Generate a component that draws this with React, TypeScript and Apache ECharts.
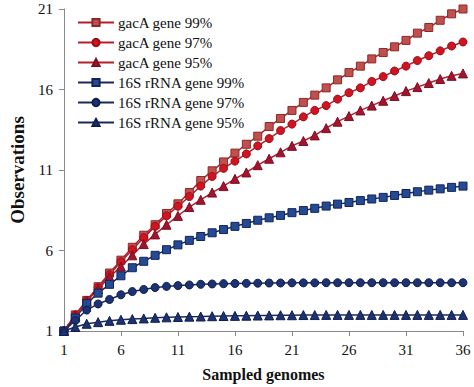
import React, { useEffect, useRef } from "react";
import * as echarts from "echarts";

const genomes: number[] = Array.from({ length: 36 }, (_, i) => i + 1);

const gacA99 = [1, 2.0, 2.9, 3.75, 4.6, 5.4, 6.2, 6.95, 7.6, 8.3, 8.9, 9.6, 10.35, 10.95, 11.5, 12.05, 12.6, 13.1, 13.7, 14.2, 14.7, 15.2, 15.65, 16.1, 16.6, 17.05, 17.45, 17.9, 18.3, 18.65, 19.05, 19.5, 19.85, 20.3, 20.7, 21.0];
const gacA97 = [1, 2.0, 2.9, 3.7, 4.5, 5.3, 6.05, 6.8, 7.5, 8.15, 8.75, 9.35, 10.0, 10.6, 11.1, 11.55, 12.0, 12.5, 12.95, 13.45, 13.85, 14.3, 14.7, 15.0, 15.4, 15.8, 16.1, 16.5, 16.8, 17.15, 17.45, 17.8, 18.1, 18.4, 18.7, 18.95];
const gacA95 = [1, 1.95, 2.85, 3.6, 4.35, 5.0, 5.7, 6.4, 7.0, 7.6, 8.15, 8.7, 9.15, 9.6, 10.0, 10.45, 10.85, 11.3, 11.7, 12.1, 12.5, 12.8, 13.15, 13.6, 14.0, 14.35, 14.7, 15.0, 15.3, 15.6, 15.9, 16.15, 16.4, 16.65, 16.85, 17.0];
const s16_99 = [1, 1.8, 2.7, 3.35, 3.9, 4.43, 4.93, 5.33, 5.7, 6.05, 6.35, 6.63, 6.87, 7.1, 7.3, 7.5, 7.68, 7.88, 8.03, 8.18, 8.35, 8.48, 8.62, 8.76, 8.88, 8.98, 9.1, 9.2, 9.3, 9.42, 9.54, 9.65, 9.75, 9.83, 9.92, 10.0];
const s16_97 = [1, 1.65, 2.3, 2.68, 2.96, 3.25, 3.45, 3.58, 3.7, 3.77, 3.82, 3.86, 3.9, 3.92, 3.94, 3.95, 3.96, 3.97, 3.98, 3.98, 3.99, 3.99, 3.99, 4, 4, 4, 4, 4, 4, 4, 4, 4, 4, 4, 4, 4];
const s16_95 = [1, 1.25, 1.45, 1.55, 1.63, 1.7, 1.74, 1.78, 1.82, 1.85, 1.87, 1.89, 1.9, 1.92, 1.93, 1.94, 1.95, 1.96, 1.97, 1.98, 1.98, 1.99, 1.99, 2, 2, 2, 2, 2, 2, 2, 2, 2, 2, 2, 2, 2];

const seriesNames = ["gacA gene 99%", "gacA gene 97%", "gacA gene 95%", "16S rRNA gene 99%", "16S rRNA gene 97%", "16S rRNA gene 95%"];

const SERIF = "'Liberation Serif', 'Times New Roman', serif";

export default function App() {
  const ref = useRef<HTMLDivElement>(null);
  useEffect(() => {
    if (!ref.current) return;
    const chart = echarts.init(ref.current, null, { renderer: "svg" });
    const red = "#B3202B";
    const navy = "#1B2A5C";
    const mk = (
      name: string,
      values: number[],
      symbol: string,
      size: number,
      line: string,
      fill: string,
      border: string
    ) => ({
      name,
      type: "line",
      data: genomes.map((g, i) => [g, values[i]]),
      symbol,
      symbolSize: size,
      showAllSymbol: true,
      lineStyle: { color: line, width: 1.5 },
      itemStyle: { color: fill, borderColor: border, borderWidth: 1 },
      z: 2,
    });
    chart.setOption({
      animation: false,
      backgroundColor: "#ffffff",
      grid: { left: 51, right: 11, top: 9, bottom: 53 },
      legend: {
        orient: "vertical",
        left: 77,
        top: 15,
        padding: 0,
        itemWidth: 36,
        itemHeight: 9,
        itemGap: 5,
        textStyle: { fontFamily: SERIF, fontSize: 15, color: "#111", lineHeight: 15, padding: [0, 0, 0, -1] },
        data: seriesNames,
      },
      xAxis: {
        type: "value",
        min: 1,
        max: 36,
        interval: 5,
        name: "Sampled genomes",
        nameLocation: "middle",
        nameGap: 35,
        nameTextStyle: { fontFamily: SERIF, fontSize: 16, fontWeight: "bold", color: "#111" },
        axisLine: { lineStyle: { color: "#888", width: 1 } },
        axisTick: { show: true, length: 5, lineStyle: { color: "#888" } },
        axisLabel: { fontFamily: SERIF, fontSize: 15, color: "#111", margin: 11 },
        splitLine: { show: false },
      },
      yAxis: {
        type: "value",
        min: 1,
        max: 21,
        interval: 5,
        name: "Observations",
        nameLocation: "middle",
        nameGap: 33,
        nameTextStyle: { fontFamily: SERIF, fontSize: 19, fontWeight: "bold", color: "#111" },
        axisLine: { show: true, lineStyle: { color: "#888", width: 1 } },
        axisTick: { show: true, length: 5, lineStyle: { color: "#888" } },
        axisLabel: { fontFamily: SERIF, fontSize: 15, color: "#111", margin: 11 },
        splitLine: { show: false },
      },
      series: [
        mk(seriesNames[0], gacA99, "rect", 8, red, "#C0504D", "#8A2A28"),
        mk(seriesNames[1], gacA97, "circle", 8, red, "#D01422", "#9A0E18"),
        mk(seriesNames[2], gacA95, "triangle", 9, red, "#A3142E", "#7A0E22"),
        mk(seriesNames[3], s16_99, "rect", 8, navy, "#254A94", "#11245A"),
        mk(seriesNames[4], s16_97, "circle", 8, navy, "#1C3273", "#0F1E4E"),
        mk(seriesNames[5], s16_95, "triangle", 9, navy, "#1C3273", "#0F1E4E"),
      ],
    });
    return () => chart.dispose();
  }, []);
  return <div ref={ref} style={{ width: 474, height: 387, position: "absolute", left: 0, top: 0 }} />;
}
